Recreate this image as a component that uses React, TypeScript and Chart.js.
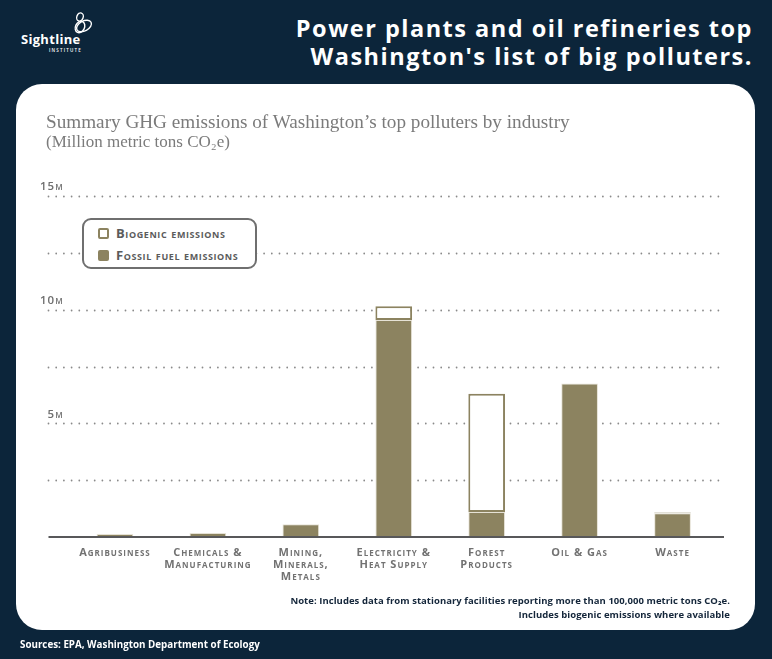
import React, { useEffect, useRef } from 'react';
import { Chart, registerables } from 'chart.js';

Chart.register(...registerables);

// Industry categories (multi-line tick labels)
const categories: string[][] = [
  ['Agribusiness'],
  ['Chemicals &', 'Manufacturing'],
  ['Mining,', 'Minerals,', 'Metals'],
  ['Electricity &', 'Heat Supply'],
  ['Forest', 'Products'],
  ['Oil & Gas'],
  ['Waste'],
];

// Million metric tons CO2e
const fossilEmissions = [0.13, 0.18, 0.56, 9.55, 1.1, 6.75, 1.04];
const biogenicEmissions = [0, 0, 0, 0.6, 5.2, 0, 0.04];

// Value axis
const yMax = 15;
const yStep = 2.5;
const yTickLabels: Record<string, string> = { '5': '5m', '10': '10m', '15': '15m' };

const NAVY = '#0c253a';
const TAN = '#8c8360';
const GRID_DOT = '#8a8a8a';
const AXIS_LINE = '#58585a';
const SANS = '"Open Sans", "DejaVu Sans", sans-serif';
const SERIF = '"Liberation Serif", "DejaVu Serif", serif';

// Wider tracking for the axis labels, dotted gridlines behind the bars,
// solid baseline on top of them
const gridPlugin = {
  id: 'dottedGrid',
  beforeDraw(chart: any) {
    (chart.ctx as any).letterSpacing = '1px';
  },
  beforeDatasetsDraw(chart: any) {
    const { ctx, chartArea, scales } = chart;
    (ctx as any).letterSpacing = '0px';
    const y = scales.y;
    const x0 = chartArea.left - 20;
    const x1 = chartArea.right + 5;
    ctx.save();
    ctx.strokeStyle = GRID_DOT;
    ctx.lineWidth = 1.8;
    ctx.lineCap = 'round';
    ctx.setLineDash([0, 7.7]);
    for (let v = yStep; v <= yMax + 1e-9; v += yStep) {
      const py = Math.round(y.getPixelForValue(v)) + 0.5;
      ctx.beginPath();
      ctx.moveTo(x0, py);
      ctx.lineTo(x1, py);
      ctx.stroke();
    }
    ctx.restore();
  },
  afterDatasetsDraw(chart: any) {
    const { ctx, chartArea, scales } = chart;
    const py = scales.y.getPixelForValue(0);
    ctx.save();
    ctx.strokeStyle = AXIS_LINE;
    ctx.lineWidth = 2;
    ctx.beginPath();
    ctx.moveTo(chartArea.left - 20, py);
    ctx.lineTo(chartArea.right + 5, py);
    ctx.stroke();
    ctx.restore();
  },
};

export default function App() {
  const canvasRef = useRef<HTMLCanvasElement>(null);

  useEffect(() => {
    document.body.style.margin = '0';
    const chart = new Chart(canvasRef.current!, {
      type: 'bar',
      data: {
        labels: categories,
        datasets: [
          {
            label: 'Fossil fuel emissions',
            data: fossilEmissions,
            backgroundColor: TAN,
            borderColor: '#e6e2d6',
            borderWidth: 1,
            barPercentage: 0.395,
            categoryPercentage: 1,
          },
          {
            label: 'Biogenic emissions',
            data: biogenicEmissions,
            backgroundColor: '#ffffff',
            borderColor: TAN,
            borderWidth: 2,
            borderSkipped: false,
            barPercentage: 0.395,
            categoryPercentage: 1,
          },
        ],
      },
      options: {
        animation: false,
        responsive: false,
        maintainAspectRatio: false,
        layout: { padding: { left: 0, right: 53, top: 196, bottom: 0 } },
        plugins: {
          legend: { display: false },
          tooltip: { enabled: false },
        },
        scales: {
          x: {
            stacked: true,
            grid: { display: false, drawTicks: false },
            border: { display: false },
            ticks: {
              color: '#727272',
              autoSkip: false,
              maxRotation: 0,
              padding: 10,
              font: { family: SANS, size: 11, weight: 'small-caps 700' as any, lineHeight: 1.1 },
            },
            afterFit: (s: any) => {
              s.height = 122;
            },
          },
          y: {
            stacked: true,
            min: 0,
            max: yMax,
            grid: { display: false, drawTicks: false },
            border: { display: false },
            ticks: {
              stepSize: yStep,
              color: '#6e6e6e',
              padding: 5,
              labelOffset: -9,
              font: { family: SANS, size: 11.5, weight: 'small-caps 600' as any },
              callback: (v: any) => yTickLabels[String(v)] ?? '',
            },
            afterFit: (s: any) => {
              s.width = 68.5;
            },
          },
        },
      },
      plugins: [gridPlugin],
    });
    return () => chart.destroy();
  }, []);

  const legendText: React.CSSProperties = {
    position: 'absolute',
    left: 32,
    fontFamily: SANS,
    fontWeight: 700,
    fontSize: 13,
    fontVariant: 'small-caps',
    color: '#5b5b5b',
    lineHeight: '14px',
    letterSpacing: 0.6,
    whiteSpace: 'nowrap',
  };

  return (
    <div
      style={{
        position: 'relative',
        width: 772,
        height: 659,
        background: NAVY,
        overflow: 'hidden',
        fontFamily: SANS,
      }}
    >
      {/* Logo */}
      <svg
        width={40}
        height={30}
        viewBox="0 0 40 30"
        style={{ position: 'absolute', left: 62, top: 9 }}
      >
        <g fill="none" stroke="#ffffff" strokeWidth={1.4}>
          <ellipse cx={18} cy={8} rx={3.2} ry={4.2} transform="rotate(20 18 8)" />
          <ellipse cx={22} cy={17} rx={8} ry={5} transform="rotate(-28 22 17)" />
          <ellipse cx={18} cy={18} rx={4.5} ry={6} transform="rotate(25 18 18)" />
        </g>
      </svg>
      <div
        style={{
          position: 'absolute',
          left: 21,
          top: 31,
          color: '#fff',
          fontWeight: 700,
          fontSize: 13,
          lineHeight: '16px',
          letterSpacing: 0.3,
        }}
      >
        Sightline
      </div>
      <div
        style={{
          position: 'absolute',
          left: 49,
          top: 47,
          color: '#fff',
          fontWeight: 600,
          fontSize: 4.5,
          lineHeight: '6px',
          letterSpacing: 1.2,
        }}
      >
        INSTITUTE
      </div>

      {/* Headline */}
      <div
        style={{
          position: 'absolute',
          right: 19,
          top: 14,
          color: '#fff',
          fontWeight: 700,
          fontSize: 23.5,
          lineHeight: '28px',
          letterSpacing: 1.5,
          textAlign: 'right',
          whiteSpace: 'nowrap',
        }}
      >
        Power plants and oil refineries top
        <br />
        Washington's list of big polluters.
      </div>

      {/* Card */}
      <div
        style={{
          position: 'absolute',
          left: 16,
          top: 84,
          width: 739,
          height: 546,
          background: '#ffffff',
          borderRadius: 26,
        }}
      />

      <canvas
        ref={canvasRef}
        width={772}
        height={659}
        style={{ position: 'absolute', left: 0, top: 0, width: 772, height: 659 }}
      />

      {/* Chart title */}
      <div
        style={{
          position: 'absolute',
          left: 46,
          top: 110,
          fontFamily: SERIF,
          fontSize: 19.2,
          lineHeight: '24px',
          color: '#7b7b7b',
          whiteSpace: 'nowrap',
        }}
      >
        Summary GHG emissions of Washington’s top polluters by industry
      </div>
      <div
        style={{
          position: 'absolute',
          left: 46,
          top: 131,
          fontFamily: SERIF,
          fontSize: 17,
          lineHeight: '22px',
          color: '#7b7b7b',
          whiteSpace: 'nowrap',
        }}
      >
        (Million metric tons CO₂e)
      </div>

      {/* Legend */}
      <div
        style={{
          position: 'absolute',
          left: 82,
          top: 218,
          width: 175,
          height: 51,
          boxSizing: 'border-box',
          border: '2px solid #6f6f6f',
          borderRadius: 9,
          background: '#ffffff',
        }}
      >
        <div
          style={{
            position: 'absolute',
            left: 14,
            top: 8,
            width: 11,
            height: 11,
            boxSizing: 'border-box',
            border: `2px solid ${TAN}`,
            borderRadius: 2,
            background: '#fff',
          }}
        />
        <div style={{ ...legendText, top: 6 }}>Biogenic emissions</div>
        <div
          style={{
            position: 'absolute',
            left: 14,
            top: 30,
            width: 11,
            height: 11,
            borderRadius: 2,
            background: TAN,
          }}
        />
        <div style={{ ...legendText, top: 28 }}>Fossil fuel emissions</div>
      </div>

      {/* Note */}
      <div
        style={{
          position: 'absolute',
          right: 42,
          top: 594,
          color: '#14263a',
          fontWeight: 700,
          fontSize: 9.5,
          lineHeight: '14px',
          letterSpacing: 0.05,
          textAlign: 'right',
          whiteSpace: 'nowrap',
        }}
      >
        Note: Includes data from stationary facilities reporting more than 100,000 metric tons CO₂e.
        <br />
        Includes biogenic emissions where available
      </div>

      {/* Sources */}
      <div
        style={{
          position: 'absolute',
          left: 20,
          top: 638,
          color: '#ffffff',
          fontWeight: 700,
          fontSize: 9.8,
          lineHeight: '14px',
          whiteSpace: 'nowrap',
        }}
      >
        Sources: EPA, Washington Department of Ecology
      </div>
    </div>
  );
}
